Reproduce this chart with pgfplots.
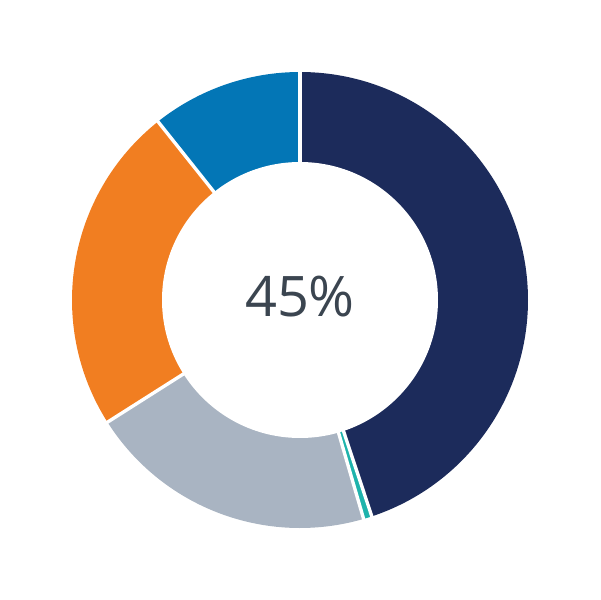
\documentclass[border=0pt]{standalone}
\usepackage{pgfplots}
\pgfplotsset{compat=1.18}
\usepackage{pgfplotstable}
\usepackage{fontspec}
\setmainfont{Open Sans}

\definecolor{cnavy}{HTML}{1C2B5B}
\definecolor{cteal}{HTML}{1FB3AC}
\definecolor{cgray}{HTML}{A9B4C2}
\definecolor{corange}{HTML}{F17E21}
\definecolor{cblue}{HTML}{0376B6}
\definecolor{ctext}{HTML}{3B4550}

% share of each segment, in percent, clockwise from 12 o'clock
\pgfplotstableread{
share
44.9
0.6
20.5
23.3
10.7
}\donut

% cumulative boundary angles (degrees, clockwise from top)
\pgfplotstablegetelem{0}{share}\of\donut \pgfmathsetmacro\bA{\pgfplotsretval*3.6}
\pgfplotstablegetelem{1}{share}\of\donut \pgfmathsetmacro\bB{\bA+\pgfplotsretval*3.6}
\pgfplotstablegetelem{2}{share}\of\donut \pgfmathsetmacro\bC{\bB+\pgfplotsretval*3.6}
\pgfplotstablegetelem{3}{share}\of\donut \pgfmathsetmacro\bD{\bC+\pgfplotsretval*3.6}
\pgfplotstablegetelem{4}{share}\of\donut \pgfmathsetmacro\bE{\bD+\pgfplotsretval*3.6}

\def\Rout{3.8}
\def\Rin{2.3}
% segment from angle #1 to #2 (clockwise from top)
\newcommand\donutseg[3]{%
  \fill[#3] (axis cs:0,0) -- ++({90-#1}:\Rout cm)
    arc[start angle={90-#1}, end angle={90-#2}, radius=\Rout cm] -- cycle;}
\newcommand\donutsep[1]{%
  \draw[white, line width=1.6pt] (axis cs:0,0) ++({90-#1}:{(\Rin-0.1)*1cm})
    -- ++({90-#1}:{(\Rout-\Rin+0.3)*1cm});}

\begin{document}
\begin{tikzpicture}
\begin{axis}[
  x=1cm, y=1cm,
  xmin=-5, xmax=5, ymin=-5, ymax=5,
  hide axis, clip=false,
]
\addplot[draw=none] coordinates {(-5,-5) (5,5)};
\donutseg{0}{\bA}{cnavy}
\donutseg{\bA}{\bB}{cteal}
\donutseg{\bB}{\bC}{cgray}
\donutseg{\bC}{\bD}{corange}
\donutseg{\bD}{\bE}{cblue}
\donutsep{0}
\donutsep{\bA}
\donutsep{\bB}
\donutsep{\bC}
\donutsep{\bD}
\fill[white] (axis cs:0,0) circle[radius=\Rin cm];
\node[text=ctext, font=\fontsize{26.5}{30}\selectfont] at (axis cs:0,0.06) {45\%};
\end{axis}
\end{tikzpicture}
\end{document}
